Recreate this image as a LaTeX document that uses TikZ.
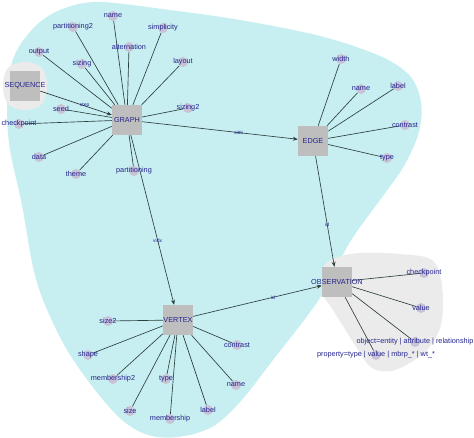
\documentclass[tikz,border=0pt]{standalone}
\usepackage{fontspec}
\setmainfont{Liberation Sans}
\usetikzlibrary{arrows.meta}
\definecolor{cyanbg}{HTML}{C7EEF0}
\definecolor{blobgray}{HTML}{EBEBEB}
\definecolor{boxgray}{HTML}{BEBEBE}
\definecolor{leafc}{HTML}{C9C3D8}
\definecolor{txt}{HTML}{24248E}
\definecolor{ln}{HTML}{2E3F3F}
\pgfdeclarelayer{blobs}
\pgfdeclarelayer{edges}
\pgfsetlayers{blobs,edges,main}
\tikzset{
  ent/.style={rectangle, fill=boxgray, minimum size=30pt, inner sep=0pt, font=\fontsize{7.3}{8}\selectfont, text=txt},
  leaf/.style={circle, fill=leafc, minimum size=10pt, inner sep=0pt},
  lbl/.style={font=\fontsize{7.3}{8}\selectfont, text=txt, inner sep=0pt},
  conn/.style={draw=ln, line width=0.65pt},
  rel/.style={conn, -{Stealth[length=5pt,width=4pt]}},
  rlbl/.style={font=\fontsize{5}{5}\selectfont, text=txt, inner sep=0pt, pos=0.62},
}
\newcommand\leafnode[3]{\node[leaf,label={[lbl]center:{#3}}] (#1) at (#2) {};}
\newcommand\enttext[1]{\makebox[0pt]{#1}}
\begin{document}
\begin{tikzpicture}[x=1pt,y=-1pt]
\useasboundingbox (0,0) rectangle (474,438);
\begin{pgfonlayer}{blobs}
\fill[cyanbg] plot[smooth cycle, tension=0.55] coordinates {
 (100,2) (170,10) (240,20) (320,36) (380,56) (410,76) (421,102) (419,132) (404,166)
 (380,200) (350,242) (320,298) (273,360) (240,402) (212,427) (178,437) (148,435)
 (122,420) (95,390) (67,350) (45,305) (33,267) (22,205) (10,150) (7,110) (10,70)
 (20,45) (40,22) (65,8)};
\fill[blobgray] plot[smooth cycle, tension=0.6] coordinates {
 (25,62) (42,68) (47,86) (42,104) (25,110) (8,104) (3,86) (8,68)};
\fill[blobgray] plot[smooth cycle, tension=0.55] coordinates {
 (335,258) (360,253) (400,254) (432,260) (442,285) (441,325) (425,352) (395,370)
 (372,368) (355,345) (333,310) (322,292) (323,268)};
\end{pgfonlayer}

% entities
\node[ent] (seq) at (25,86) {\enttext{SEQUENCE}};
\node[ent] (graph) at (127,120) {\enttext{GRAPH}};
\node[ent] (edge) at (313,141) {\enttext{EDGE}};
\node[ent] (vertex) at (178,320) {\enttext{VERTEX}};
\node[ent] (obs) at (337,282) {\enttext{OBSERVATION}};

% graph leaves
\leafnode{gname}{113,16}{name}
\leafnode{gpart2}{73,27}{partitioning2}
\leafnode{gsimp}{163,28}{simplicity}
\leafnode{galt}{129,47}{alternation}
\leafnode{gout}{39,52}{output}
\leafnode{gsizing}{82,64}{sizing}
\leafnode{glayout}{183,62}{layout}
\leafnode{gseed}{61,109}{seed}
\leafnode{gsizing2}{188,108}{sizing2}
\leafnode{gcheck}{19,124}{checkpoint}
\leafnode{gdata}{39,157}{data}
\leafnode{gtheme}{76,174}{theme}
\leafnode{gpart}{134,171}{partitioning}

% edge leaves
\leafnode{ewidth}{341,59}{width}
\leafnode{ename}{361,89}{name}
\leafnode{elabel}{398,86}{label}
\leafnode{econtrast}{405,125}{contrast}
\leafnode{etype}{387,158}{type}

% vertex leaves
\leafnode{vsize2}{108,321}{size2}
\leafnode{vshape}{88,355}{shape}
\leafnode{vmem2}{113,379}{membership2}
\leafnode{vtype}{166,379}{type}
\leafnode{vsize}{130,411}{size}
\leafnode{vmem}{170,419}{membership}
\leafnode{vlabel}{208,410}{label}
\leafnode{vname}{236,385}{name}
\leafnode{vcontrast}{237,345}{contrast}

% observation leaves
\leafnode{ocheck}{424,273}{checkpoint}
\leafnode{ovalue}{421,308}{value}
\leafnode{oobj}{415,342}{object=entity | attribute | relationship}
\leafnode{oprop}{376,355}{property=type | value | mbrp\_* | wt\_*}

\begin{pgfonlayer}{edges}
\foreach \l in {gname,gpart2,gsimp,galt,gout,gsizing,glayout,gseed,gsizing2,gcheck,gdata,gtheme,gpart}
  \draw[conn] (graph) -- (\l);
\foreach \l in {ewidth,ename,elabel,econtrast,etype}
  \draw[conn] (edge) -- (\l);
\foreach \l in {vsize2,vshape,vmem2,vtype,vsize,vmem,vlabel,vname,vcontrast}
  \draw[conn] (vertex) -- (\l);
\foreach \l in {ocheck,ovalue,oobj,oprop}
  \draw[conn] (obs) -- (\l);
\draw[rel] (seq) -- node[rlbl] {step} (graph);
\draw[rel] (graph) -- node[rlbl] {sidx} (edge);
\draw[rel] (graph) -- node[rlbl] {vidx} (vertex);
\draw[rel] (edge) -- node[rlbl] {id} (obs);
\draw[rel] (vertex) -- node[rlbl] {id} (obs);
\end{pgfonlayer}
\end{tikzpicture}
\end{document}
